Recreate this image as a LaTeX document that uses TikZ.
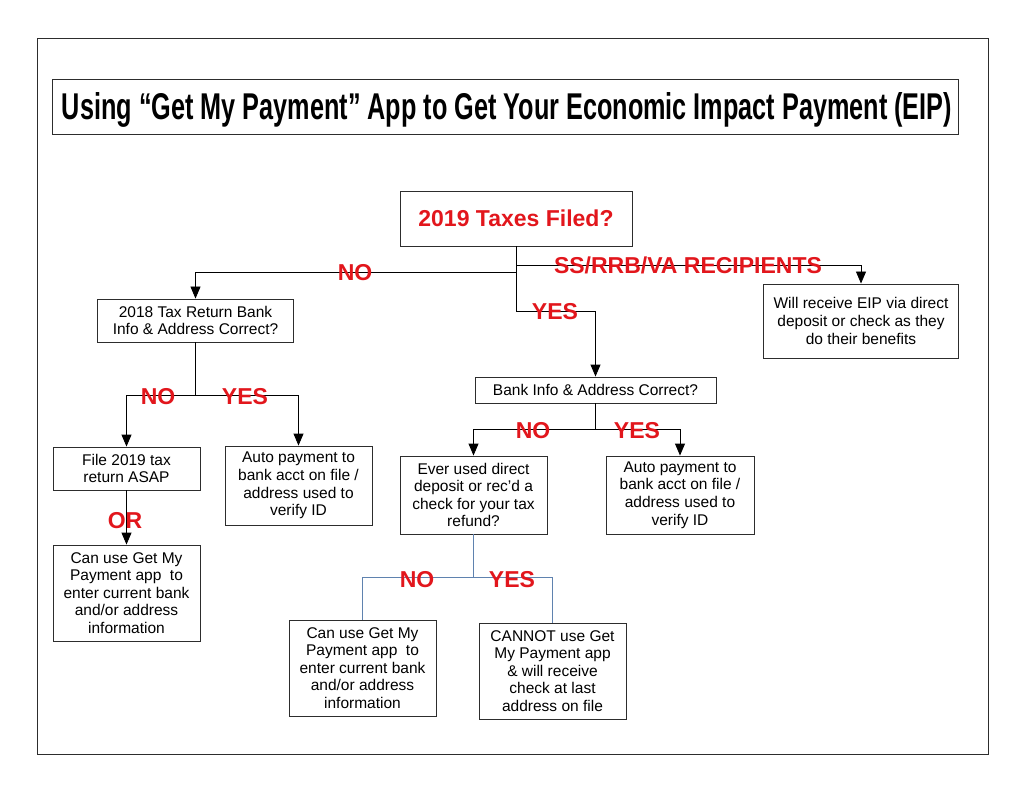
\documentclass[tikz,border=0pt]{standalone}
\usepackage{fontspec}
\setmainfont{Liberation Sans}
\usetikzlibrary{arrows.meta}
\definecolor{lred}{RGB}{226,22,28}
\definecolor{bline}{RGB}{95,130,175}
\definecolor{edgec}{RGB}{45,45,45}
\begin{document}
\begin{tikzpicture}[x=1pt,y=-1pt,
  box/.style={draw=edgec, line width=0.9pt, align=center, inner sep=0pt,
    font=\fontsize{15.5}{17.6}\selectfont},
  lbl/.style={text=lred, font=\fontsize{23}{23}\selectfont\bfseries, anchor=base, inner sep=0pt},
  conn/.style={draw=black, line width=0.9pt},
  arr/.style={conn, -{Triangle[length=12pt,width=10pt]}},
  bl/.style={draw=bline, line width=0.9pt}]
\useasboundingbox (0,0) rectangle (1024,791);
\fill[white] (0,0) rectangle (1024,791);
\node[draw=edgec, line width=0.9pt, minimum width=951pt, minimum height=716pt, inner sep=0pt] (frame) at (512.5,396) {};
\node[draw=edgec, line width=0.9pt, minimum width=906pt, minimum height=55pt, inner sep=0pt] (titlebox) at (505,106.5) {};
\node[anchor=base, inner sep=0pt] (title) at (507,120)
  {\resizebox{890pt}{27pt}{\bfseries Using “Get My Payment” App to Get Your Economic Impact Payment (EIP)}};

% boxes
\node[box, minimum width=232pt, minimum height=55pt, text=lred, font=\fontsize{23}{23}\selectfont\bfseries] (top) at (516,218.5) {2019 Taxes Filed?};
\node[box, minimum width=196pt, minimum height=43pt] (b2018) at (195.5,320.5) {2018 Tax Return Bank\\Info \& Address Correct?};
\node[box, minimum width=195pt, minimum height=74pt] (ss) at (861,321) {Will receive EIP via direct\\deposit or check as they\\do their benefits};
\node[box, minimum width=241pt, minimum height=26pt] (bank) at (595.5,390) {Bank Info \& Address Correct?};
\node[box, minimum width=147pt, minimum height=43pt] (file) at (126.5,468.5) {File 2019 tax\\return ASAP};
\node[box, minimum width=147pt, minimum height=79pt] (auto1) at (298.5,485.5) {Auto payment to\\bank acct on file /\\address used to\\verify ID};
\node[box, minimum width=147pt, minimum height=96pt] (can1) at (126.5,593) {Can use Get My\\Payment app\ \ to\\enter current bank\\and/or address\\information};
\node[box, minimum width=147pt, minimum height=78pt] (ever) at (473.5,495) {Ever used direct\\deposit or rec’d a\\check for your tax\\refund?};
\node[box, minimum width=148pt, minimum height=78pt] (auto2) at (680,495) {Auto payment to\\bank acct on file /\\address used to\\verify ID};
\node[box, minimum width=147pt, minimum height=96pt] (can2) at (362.5,668) {Can use Get My\\Payment app\ \ to\\enter current bank\\and/or address\\information};
\node[box, minimum width=147pt, minimum height=96pt] (cannot) at (552.5,671) {CANNOT use Get\\My Payment app\\\& will receive\\check at last\\address on file};

% connectors
\draw[arr] (top.south) -- ++(0,65) -| (bank.north);
\draw[arr] (top.south) ++(0,26) -| (b2018.north);
\draw[arr] (top.south) ++(0,19) -| (ss.north);
\draw[arr] (b2018.south) ++(0,53) -| (file.north);
\draw[arr] (b2018.south) -- ++(0,53) -| (auto1.north);
\draw[arr] (file) -- (can1);
\draw[arr] (bank.south) ++(0,26) -| (ever.north);
\draw[arr] (bank.south) -- ++(0,26) -| (auto2.north);
\draw[bl] (ever.south) -- ++(0,43) -| (can2.north);
\draw[bl] (ever.south) ++(0,43) -| (cannot.north);

% labels
\node[lbl] (l1) at (355,280) {NO};
\node[lbl] (l2) at (688,273) {SS/RRB/VA RECIPIENTS};
\node[lbl] (l3) at (555,319) {YES};
\node[lbl] (l4) at (158,404) {NO};
\node[lbl] (l5) at (245,404) {YES};
\node[lbl] (l6) at (125,528) {OR};
\node[lbl] (l7) at (533,438) {NO};
\node[lbl] (l8) at (637,438) {YES};
\node[lbl] (l9) at (417,587) {NO};
\node[lbl] (l10) at (512,587) {YES};
\end{tikzpicture}
\end{document}
